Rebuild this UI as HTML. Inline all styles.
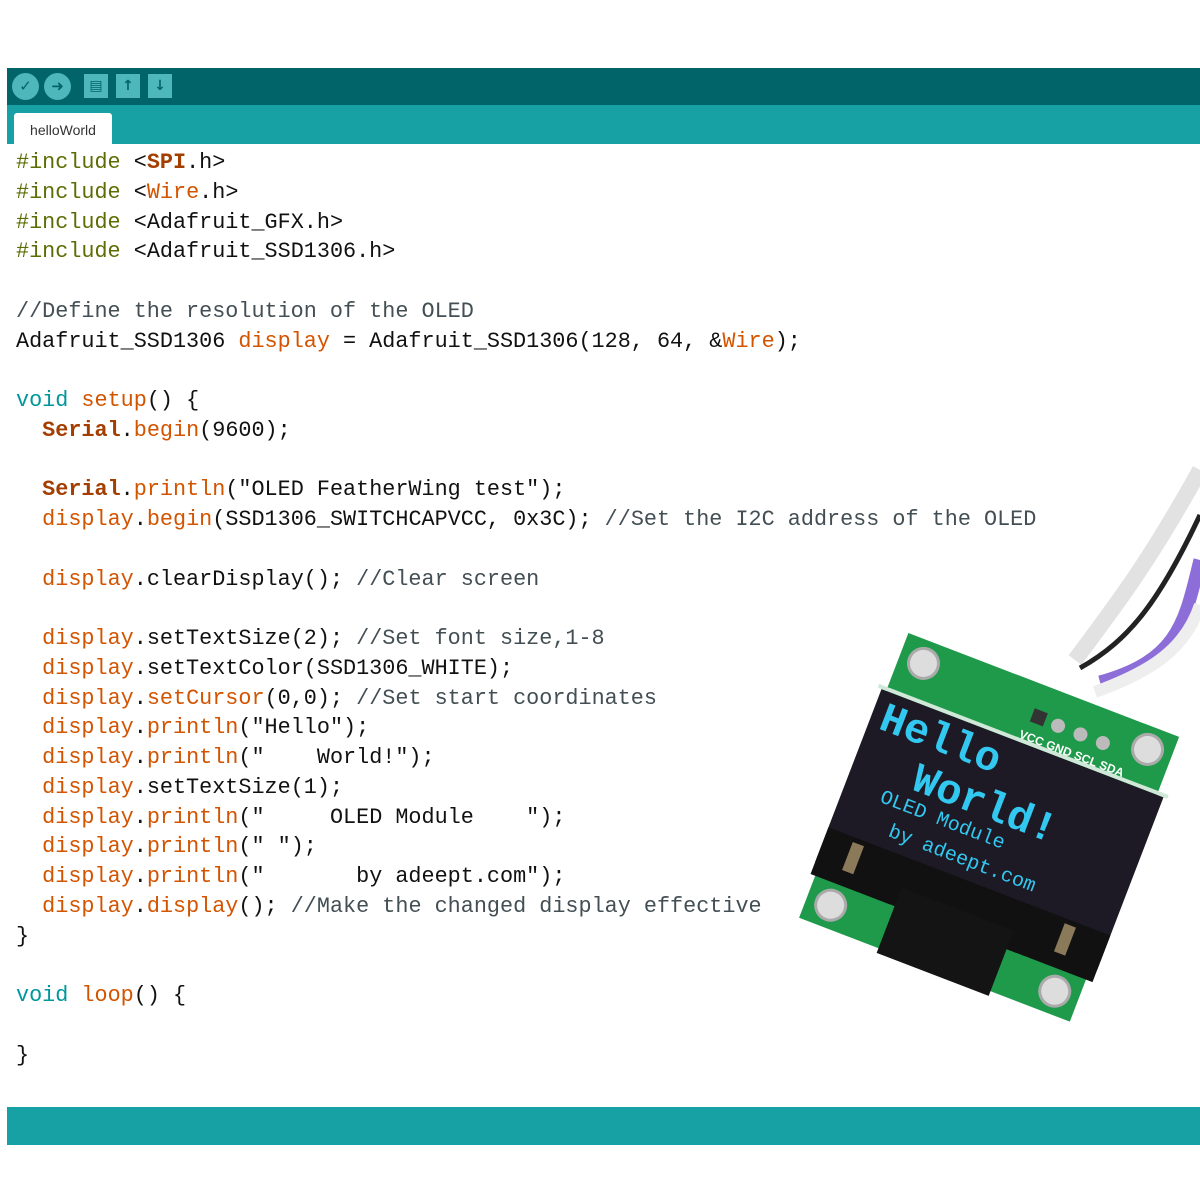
<!DOCTYPE html>
<html><head><meta charset="utf-8">
<style>
body{margin:0;width:1200px;height:1200px;background:#fff;position:relative;overflow:hidden;font-family:"Liberation Mono",monospace}
.bar1{position:absolute;left:7px;top:68px;width:1193px;height:37px;background:#006468}
.bar2{position:absolute;left:7px;top:105px;width:1193px;height:39px;background:#17a1a5}
.bar3{position:absolute;left:7px;top:1107px;width:1193px;height:38px;background:#17a1a5}
.tab{position:absolute;left:14px;top:113px;width:98px;height:31px;background:#fff;border-radius:3px 3px 0 0;font:14px "Liberation Sans",sans-serif;color:#333;line-height:34px;text-align:center}
.circ{position:absolute;top:73px;width:27px;height:27px;border-radius:50%;background:#4db7bb;color:#006468;font:bold 15px "DejaVu Sans";text-align:center;line-height:27px}
.sq{position:absolute;top:74px;width:24px;height:24px;background:#4db7bb;color:#006468;font:bold 14px "DejaVu Sans";text-align:center;line-height:24px}
pre{position:absolute;left:16px;top:148px;margin:0;font-family:"Liberation Mono",monospace;font-size:21.8px;line-height:29.75px;color:#111}
.i{color:#5e6d03}.o{color:#d35400}.b{color:#a33e00;font-weight:bold}.t{color:#00979c}.c{color:#434f54}
</style></head><body>
<div class="bar1"></div><div class="bar2"></div><div class="bar3"></div>
<div class="circ" style="left:12px">✓</div><div class="circ" style="left:44px">➜</div>
<div class="sq" style="left:84px">▤</div><div class="sq" style="left:116px">↑</div><div class="sq" style="left:148px">↓</div>
<div class="tab">helloWorld</div>
<pre><span class="i">#include</span> &lt;<span class="b">SPI</span>.h&gt;
<span class="i">#include</span> &lt;<span class="o">Wire</span>.h&gt;
<span class="i">#include</span> &lt;Adafruit_GFX.h&gt;
<span class="i">#include</span> &lt;Adafruit_SSD1306.h&gt;

<span class="c">//Define the resolution of the OLED</span>
Adafruit_SSD1306 <span class="o">display</span> = Adafruit_SSD1306(128, 64, &amp;<span class="o">Wire</span>);

<span class="t">void</span> <span class="o">setup</span>() {
  <span class="b">Serial</span>.<span class="o">begin</span>(9600);

  <span class="b">Serial</span>.<span class="o">println</span>("OLED FeatherWing test");
  <span class="o">display</span>.<span class="o">begin</span>(SSD1306_SWITCHCAPVCC, 0x3C); <span class="c">//Set the I2C address of the OLED</span>

  <span class="o">display</span>.clearDisplay(); <span class="c">//Clear screen</span>

  <span class="o">display</span>.setTextSize(2); <span class="c">//Set font size,1-8</span>
  <span class="o">display</span>.setTextColor(SSD1306_WHITE);
  <span class="o">display</span>.<span class="o">setCursor</span>(0,0); <span class="c">//Set start coordinates</span>
  <span class="o">display</span>.<span class="o">println</span>("Hello");
  <span class="o">display</span>.<span class="o">println</span>("    World!");
  <span class="o">display</span>.setTextSize(1);
  <span class="o">display</span>.<span class="o">println</span>("     OLED Module    ");
  <span class="o">display</span>.<span class="o">println</span>(" ");
  <span class="o">display</span>.<span class="o">println</span>("       by adeept.com");
  <span class="o">display</span>.<span class="o">display</span>(); <span class="c">//Make the changed display effective</span>
}

<span class="t">void</span> <span class="o">loop</span>() {

}</pre>
<svg style="position:absolute;left:0;top:0" width="1200" height="1200">
<path d="M1200 470 C1150 560 1120 600 1075 660" stroke="#e2e2e2" stroke-width="16" fill="none"/>
<path d="M1200 515 C1160 600 1130 640 1080 668" stroke="#222" stroke-width="5" fill="none"/>
<path d="M1200 560 C1185 620 1180 660 1100 682" stroke="#8d6ed8" stroke-width="13" fill="none"/>
<path d="M1200 605 C1185 650 1150 672 1095 692" stroke="#eee" stroke-width="12" fill="none"/>
<g transform="rotate(21 990 825)">
<rect x="845" y="675" width="290" height="305" fill="#1f9a4a"/>
<circle cx="870" cy="698" r="15" fill="#ddd" stroke="#aaa" stroke-width="3"/><circle cx="1110" cy="698" r="15" fill="#ddd" stroke="#aaa" stroke-width="3"/>
<circle cx="870" cy="957" r="15" fill="#ddd" stroke="#aaa" stroke-width="3"/><circle cx="1110" cy="957" r="15" fill="#ddd" stroke="#aaa" stroke-width="3"/>
<rect x="836" y="733" width="310" height="4" fill="#cfe8d8"/>
<rect x="840" y="737" width="302" height="185" fill="#1d1a26"/>
<rect x="840" y="885" width="302" height="50" fill="#111"/>
<rect x="930" y="915" width="120" height="70" fill="#141414"/>
<rect x="868" y="890" width="12" height="30" fill="#8a7a5a"/><rect x="1095" y="890" width="12" height="30" fill="#8a7a5a"/>
<text x="985" y="733" font-family="Liberation Sans" font-weight="bold" font-size="12" fill="#fff">VCC GND SCL SDA</text>
<rect x="990" y="700" width="14" height="14" fill="#333"/>
<circle cx="1018" cy="708" r="7" fill="#bbb"/><circle cx="1042" cy="708" r="7" fill="#bbb"/><circle cx="1066" cy="708" r="7" fill="#bbb"/>
<text x="850" y="775" font-family="Liberation Mono" font-weight="bold" font-size="42" fill="#33c8f0">Hello</text>
<text x="902" y="820" font-family="Liberation Mono" font-weight="bold" font-size="42" fill="#33c8f0">World!</text>
<text x="878" y="843" font-family="Liberation Mono" font-size="20" fill="#33c8f0">OLED Module</text>
<text x="898" y="872" font-family="Liberation Mono" font-size="20" fill="#33c8f0">by adeept.com</text>
</g>
</svg>
</body></html>
